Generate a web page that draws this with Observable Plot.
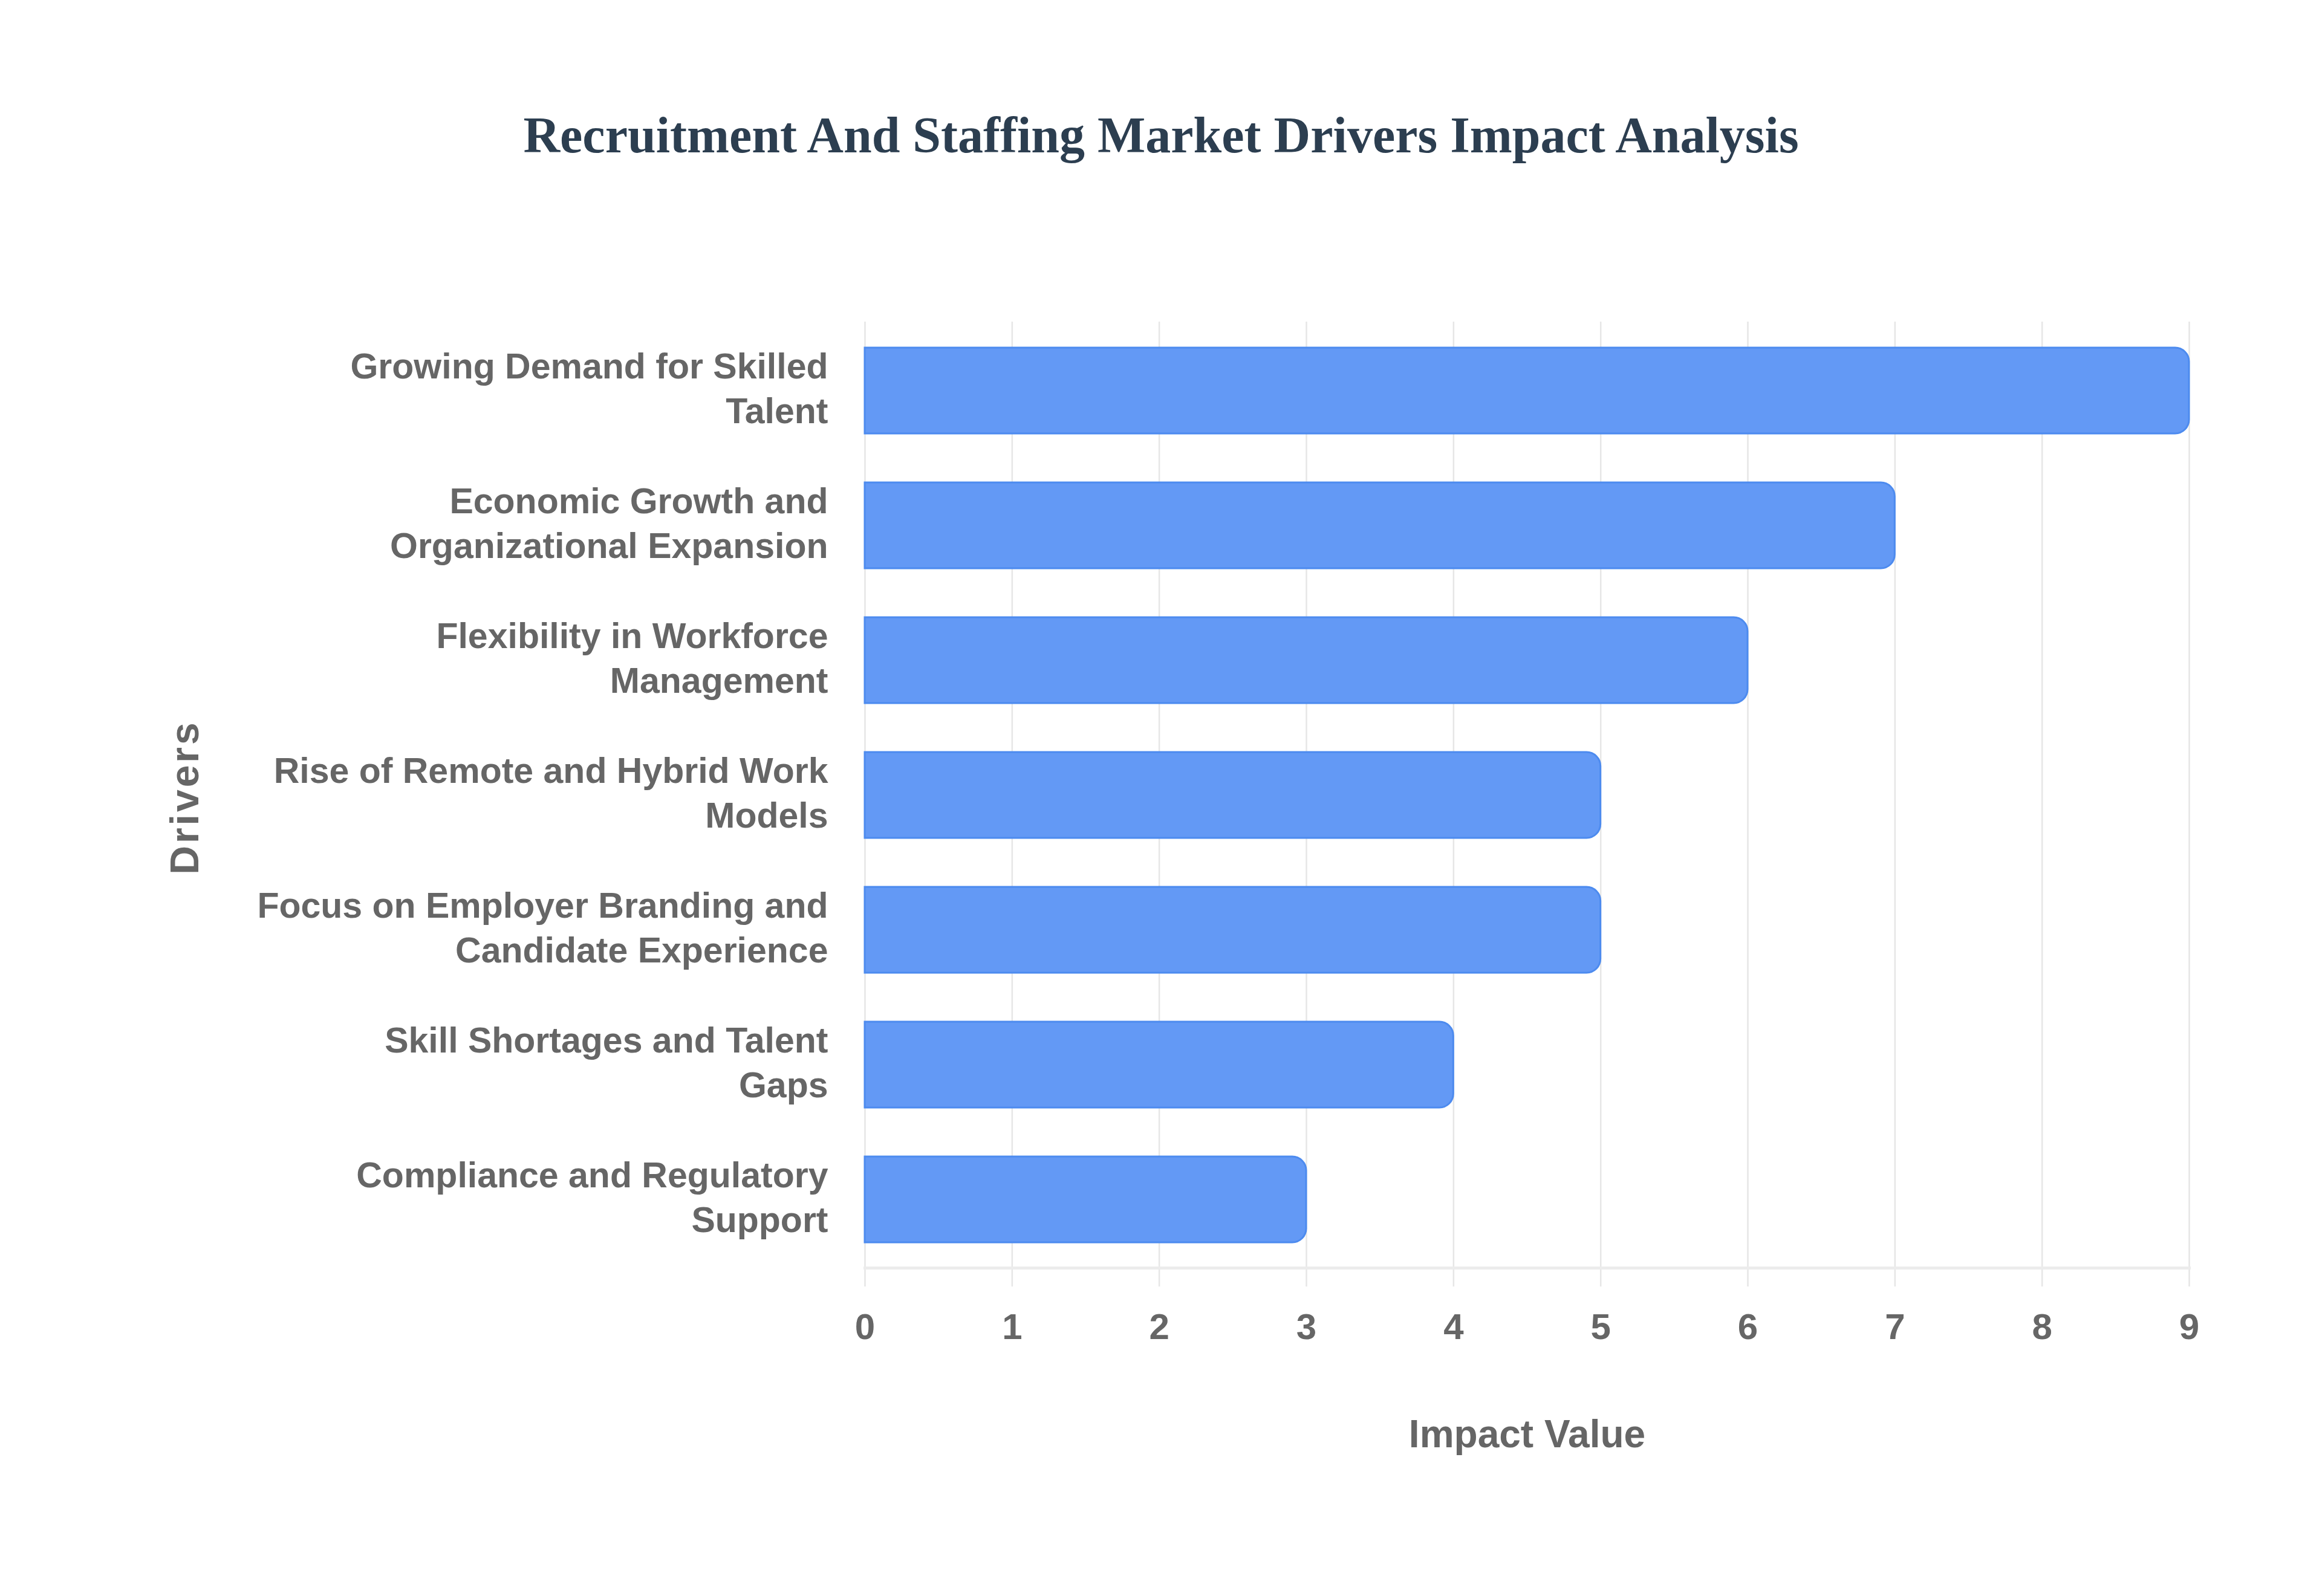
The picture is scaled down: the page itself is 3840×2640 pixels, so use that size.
<!DOCTYPE html>
<html><head><meta charset="utf-8">
<script src="https://cdn.jsdelivr.net/npm/d3@7"></script>
<script src="https://cdn.jsdelivr.net/npm/@observablehq/plot@0.6"></script>
<style>
html,body{margin:0;padding:0;background:#fff;}
#wrap{width:3840px;height:2640px;position:relative;background:#fff;}
#title{box-sizing:border-box;height:320px;padding-top:182px;margin:0;text-align:center;font-family:"Liberation Serif","Times New Roman",serif;font-weight:bold;font-size:84px;line-height:84px;color:#2c3e50;}
</style></head><body>
<div id="wrap"><div id="title"></div><div id="chart"></div></div>
<script>
const titleText = "Recruitment And Staffing Market Drivers Impact Analysis";
const drivers = [
  "Growing Demand for Skilled Talent",
  "Economic Growth and Organizational Expansion",
  "Flexibility in Workforce Management",
  "Rise of Remote and Hybrid Work Models",
  "Focus on Employer Branding and Candidate Experience",
  "Skill Shortages and Talent Gaps",
  "Compliance and Regulatory Support"
];
const driverLabels = [
  "Growing Demand for Skilled\nTalent",
  "Economic Growth and\nOrganizational Expansion",
  "Flexibility in Workforce\nManagement",
  "Rise of Remote and Hybrid Work\nModels",
  "Focus on Employer Branding and\nCandidate Experience",
  "Skill Shortages and Talent\nGaps",
  "Compliance and Regulatory\nSupport"
];
const impact = [9, 7, 6, 5, 5, 4, 3];
const xTicks = [0, 1, 2, 3, 4, 5, 6, 7, 8, 9];
const xTitle = "Impact Value";
const yTitle = "Drivers";

document.getElementById("title").textContent = titleText;
const data = drivers.map((d, i) => ({driver: d, label: driverLabels[i], value: impact[i]}));
const labelOf = new Map(data.map(d => [d.driver, d.label]));

const plot = Plot.plot({
  width: 3840, height: 2320,
  marginTop: 212, marginBottom: 543, marginLeft: 1430, marginRight: 220,
  style: {fontFamily: "'Liberation Sans', Arial, sans-serif", fontSize: "60px", fontWeight: "bold", color: "#666", background: "#fff"},
  x: {domain: [0, 9]},
  y: {domain: drivers, paddingInner: 0.365, paddingOuter: 0.1825},
  marks: [
    Plot.gridX(xTicks, {stroke: "#e6e6e6", strokeOpacity: 1, strokeWidth: 2.5}),
    Plot.axisX(xTicks, {tickSize: 31, tickPadding: 44, tickFormat: d => String(d), stroke: "#e6e6e6", strokeOpacity: 1, strokeWidth: 2.5, fill: "#666", fontSize: 60, label: null}),
    Plot.frame({anchor: "bottom", stroke: "#ececec", strokeWidth: 5}),
    Plot.barX(data, {x: "value", y: "driver", fill: "#6399f5", stroke: "#4d8bef", strokeWidth: 3, rx2: 23}),
    Plot.axisY({tickSize: 0, tickPadding: 61, dy: -7, tickFormat: d => labelOf.get(d), lineHeight: 1.25, fill: "#666", fontSize: 59, label: null}),
    Plot.text([xTitle], {text: d => d, frameAnchor: "bottom", lineAnchor: "bottom", dy: 296, fontSize: 64, fill: "#666"}),
    Plot.text([yTitle], {text: d => d, frameAnchor: "left", textAnchor: "middle", rotate: -90, lineAnchor: "bottom", dx: -1103, dy: 4, fontSize: 66, fill: "#666"})
  ]
});
d3.select(plot).selectAll("text").filter(function() { return this.textContent === yTitle; }).attr("letter-spacing", 4);
document.getElementById("chart").appendChild(plot);
</script>
</body></html>
